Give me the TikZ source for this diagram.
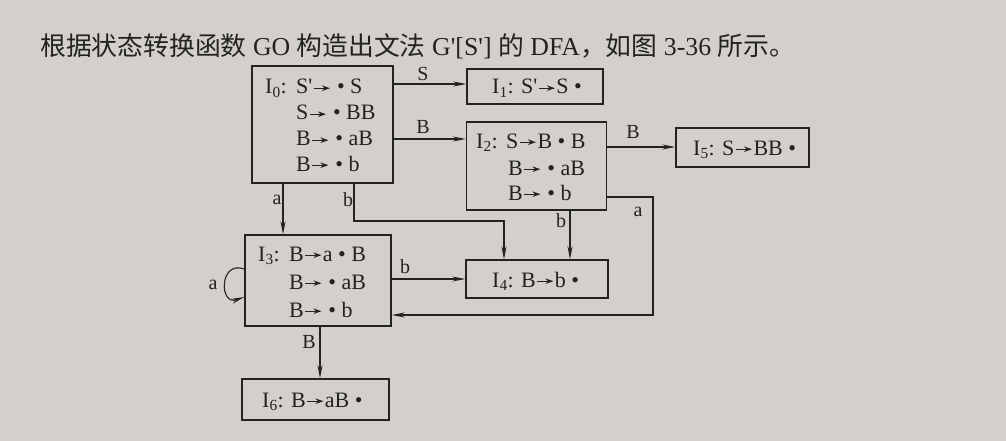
\documentclass[tikz,border=0pt]{standalone}
\usepackage{fontspec}
\setmainfont{Liberation Serif}[Ligatures=TeXOff]
\newfontfamily\cjk{Noto Sans CJK SC}
\usetikzlibrary{arrows.meta}
\definecolor{paper}{HTML}{D3CFCA}
\definecolor{ink}{HTML}{222222}
\newcommand{\ra}{\kern1pt\tikz[baseline=-5.8pt]\draw[ink, line width=1.1pt, -{Stealth[length=8pt,width=5.5pt]}] (0pt,0pt) -- (16pt,0pt);\kern1pt}
\tikzset{
  statebox/.style={draw=ink, line width=1.5pt, fill=paper, inner sep=0pt},
  item/.style={anchor=base west, inner sep=0pt, text=ink, font=\fontsize{22}{24}\selectfont},
  lbl/.style={inner sep=0pt, text=ink, font=\fontsize{20}{21}\selectfont},
  arr/.style={draw=ink, line width=1.1pt, -{Stealth[length=13pt,width=5pt]}},
}
\begin{document}
\begin{tikzpicture}[x=1pt,y=-1pt]
\fill[paper] (0,0) rectangle (1006,441);
\useasboundingbox (0,0) rectangle (1006,441);
% heading
\node[anchor=west, inner sep=0pt, text=ink, font=\fontsize{25.8}{27}\selectfont] (head) at (40,46)
  {{\cjk 根据状态转换函数} GO {\cjk 构造出文法} G'[S'] {\cjk 的} DFA{\cjk ，如图} 3-36 {\cjk 所示。}};
% boxes
\node[statebox, minimum width=141pt, minimum height=117pt] (I0) at (322.5,124.5) {};
\node[statebox, minimum width=136pt, minimum height=35pt] (I1) at (535,86.5) {};
\node[statebox, minimum width=140pt, minimum height=88pt] (I2) at (536.5,166) {};
\node[statebox, minimum width=133pt, minimum height=39pt] (I5) at (742.5,147.5) {};
\node[statebox, minimum width=146pt, minimum height=91pt] (I3) at (318,280.5) {};
\node[statebox, minimum width=142pt, minimum height=38pt] (I4) at (537,279) {};
\node[statebox, minimum width=147pt, minimum height=41pt] (I6) at (315.5,399.5) {};
% I0 items
\node[item] (i0a) at (265,94) {I\textsubscript{0}:};
\node[item] (i0b) at (296,94) {S'\ra\ • S};
\node[item] (i0c) at (296,120) {S\ra\ • BB};
\node[item] (i0d) at (296,146) {B\ra\ • aB};
\node[item] (i0e) at (296,171) {B\ra\ • b};
% I1
\node[item] (i1a) at (492,94) {I\textsubscript{1}: S'\ra S •};
% I2
\node[item] (i2a) at (476,148) {I\textsubscript{2}:};
\node[item] (i2b) at (506,148) {S\ra B • B};
\node[item] (i2c) at (508,175) {B\ra\ • aB};
\node[item] (i2d) at (508,200) {B\ra\ • b};
% I5
\node[item] (i5a) at (693,155) {I\textsubscript{5}: S\ra BB •};
% I3
\node[item] (i3a) at (258,261) {I\textsubscript{3}:};
\node[item] (i3b) at (289,261) {B\ra a • B};
\node[item] (i3c) at (289,289) {B\ra\ • aB};
\node[item] (i3d) at (289,317) {B\ra\ • b};
% I4
\node[item] (i4a) at (492,287) {I\textsubscript{4}: B\ra b •};
% I6
\node[item] (i6a) at (262,407) {I\textsubscript{6}: B\ra aB •};
% connectors
\draw[arr] (I0.east |- 0,84) -- (I1.west |- 0,84);
\draw[arr] (I0.east |- 0,139) -- (I2.west |- 0,139);
\draw[arr] (I2.east |- 0,147) -- (I5.west |- 0,147);
\draw[arr] (I0.south -| 283,0) -- (I3.north -| 283,0);
\draw[arr] (I0.south -| 354,0) -- (354,221) -- (504,221) -- (I4.north -| 504,0);
\draw[arr] (I2.south -| 570,0) -- (I4.north -| 570,0);
\draw[arr] (I2.east |- 0,197) -- (653,197) -- (653,315) -- (I3.east |- 0,315);
\draw[arr] (I3.east |- 0,279) -- (I4.west |- 0,279);
\draw[arr] (I3.west |- 0,269) .. controls (219,260) and (219,306) .. (I3.west |- 0,297);
\draw[arr] (I3.south -| 320,0) -- (I6.north -| 320,0);
% labels
\node[lbl] (lS) at (423,74) {S};
\node[lbl] (lB1) at (423,127) {B};
\node[lbl] (lB2) at (633,132) {B};
\node[lbl] (la1) at (277,200) {a};
\node[lbl] (lb1) at (348,200) {b};
\node[lbl] (lb2) at (561,221) {b};
\node[lbl] (la2) at (638,212) {a};
\node[lbl] (lb3) at (405,267) {b};
\node[lbl] (la3) at (213,285) {a};
\node[lbl] (lB3) at (309,342) {B};
\end{tikzpicture}
\end{document}
